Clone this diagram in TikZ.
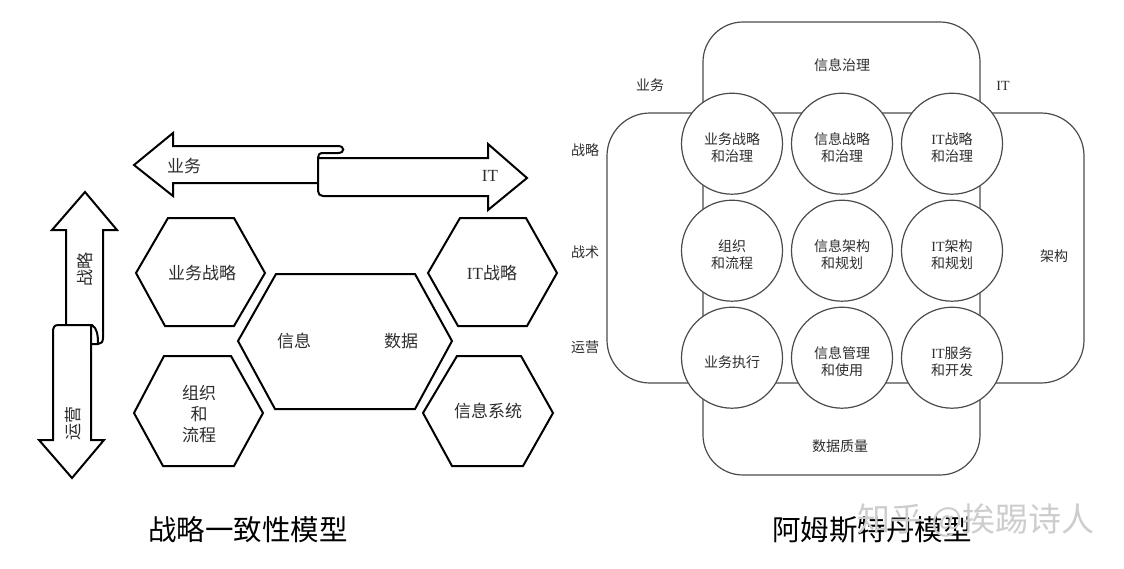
\documentclass[tikz,border=0pt]{standalone}
\usepackage{fontspec}
\setmainfont{Liberation Serif}
\newfontfamily\cjk{Noto Sans CJK SC}
\usepackage{tikz}
\usetikzlibrary{positioning}
\definecolor{inkgray}{RGB}{45,45,45}
\definecolor{rimgray}{RGB}{75,75,75}
\definecolor{markgray}{RGB}{205,205,205}
\tikzset{
	bandline/.style={draw=black, line width=2pt, line join=miter},
	hexline/.style={draw=black, line width=2pt, line join=miter},
	hexlabel/.style={font=\cjk\fontsize{17}{21}\selectfont, text=inkgray, align=center, inner sep=0pt},
	sidelabel/.style={font=\cjk\fontsize{14}{17}\selectfont, text=inkgray, inner sep=0pt},
	zone/.style={draw=rimgray, line width=1.2pt, inner sep=0pt, outer sep=0pt},
	roundel/.style={circle, draw=rimgray, line width=1.2pt, fill=white, inner sep=0pt, minimum size=101pt,
		label={[font=\cjk\fontsize{14}{16.5}\selectfont, text=inkgray, align=center, inner sep=0pt, yshift=-4pt]center:{#1}}},
	headline/.style={font=\cjk\fontsize{28.5}{32}\selectfont, text=black, inner sep=0pt}
}
\begin{document}
\begin{tikzpicture}[x=1pt, y=-1pt]
	\useasboundingbox (0,0) rectangle (1124,568);

	\draw [bandline] (318,183) -- (173,183) -- (173,196) -- (134,165) -- (173,133) -- (173,146) -- (338,146)
		.. controls (345,146) and (345,153) .. (338,153) -- (323,153)
		.. controls (319,153) and (318,155) .. (318,158) -- (318,191)
		.. controls (318,194) and (320,196) .. (323,196) -- (488,196) -- (488,210) -- (527,178) -- (488,144) -- (488,158) -- (318,158);
	\draw [bandline] (66,325) -- (66,230) -- (52,230) -- (85,192) -- (117,230) -- (103,230) -- (103,338)
		.. controls (103,342) and (101,344) .. (98,344) -- (91,344);
	\draw [bandline] (91,325) -- (91,440) -- (104,440) -- (72,478) -- (39,440) -- (53,440) -- (53,332)
		.. controls (53,328) and (54,325) .. (58,325) -- (92,325)
		.. controls (97,328) and (98,335) .. (98,344);

	\node [hexlabel] (bizband) at (184,166) {业务};
	\node [hexlabel, font=\fontsize{17}{21}\selectfont] (itband) at (490,176) {IT};
	\node [hexlabel, rotate=90] (stratband) at (85,269) {战略};
	\node [hexlabel, rotate=90] (opsband) at (73,423) {运营};

	\draw [hexline] (136,273) -- (168,218) -- (234,218) -- (265,273) -- (234,326) -- (165,326) -- cycle;
	\draw [hexline] (134,413) -- (164,356) -- (231,356) -- (263,413) -- (234,466) -- (163,466) -- cycle;
	\draw [hexline] (238,341) -- (276,274) -- (415,274) -- (452,341) -- (415,409) -- (275,409) -- cycle;
	\draw [hexline] (428,273) -- (460,218) -- (526,218) -- (557,273) -- (527,326) -- (458,326) -- cycle;
	\draw [hexline] (423,413) -- (457,356) -- (521,356) -- (553,413) -- (523,466) -- (452,466) -- cycle;

	\node [hexlabel] (bizhex) at (202,273) {业务战略};
	\node [hexlabel] (orghex) at (199,414) {组织\\和\\流程};
	\node [hexlabel] (infohex) at (294,341) {信息};
	\node [hexlabel] (datahex) at (401,341) {数据};
	\node [hexlabel] (ithex) at (492,273) {{\rmfamily IT}战略};
	\node [hexlabel] (syshex) at (488,411) {信息系统};

	\node [zone, rounded corners=40pt, minimum width=277pt, minimum height=453pt] (govzone) at (841.5,248.5) {};
	\node [zone, rounded corners=43pt, minimum width=477pt, minimum height=270pt] (archzone) at (845.5,248) {};

	\node [roundel={业务战略\\和治理}] (bizgov) at (732,143.7) {};
	\node [roundel={信息战略\\和治理}] (infogov) at (842,143.7) {};
	\node [roundel={{\rmfamily IT}战略\\和治理}] (itgov) at (952,143.7) {};
	\node [roundel={组织\\和流程}] (orgproc) at (732,250.7) {};
	\node [roundel={信息架构\\和规划}] (infoplan) at (842,250.7) {};
	\node [roundel={{\rmfamily IT}架构\\和规划}] (itplan) at (952,250.7) {};
	\node [roundel={业务执行}] (bizrun) at (732,357.7) {};
	\node [roundel={信息管理\\和使用}] (infouse) at (842,357.7) {};
	\node [roundel={{\rmfamily IT}服务\\和开发}] (itdev) at (952,357.7) {};

	\node [sidelabel] (govtop) at (842,65) {信息治理};
	\node [sidelabel] (dataqual) at (840,446) {数据质量};
	\node [sidelabel] (bizside) at (650,85) {业务};
	\node [sidelabel, font=\fontsize{14}{17}\selectfont] (itside) at (1003,86) {IT};
	\node [sidelabel] (stratside) at (585,150) {战略};
	\node [sidelabel] (tactside) at (585,252) {战术};
	\node [sidelabel] (opsside) at (585,347) {运营};
	\node [sidelabel] (archside) at (1054,256) {架构};

	\node [headline] (lefttitle) at (248,530) {战略一致性模型};
	\node [headline] (righttitle) at (872,530) {阿姆斯特丹模型};
	\node [font=\cjk\fontsize{33}{36}\selectfont, text=markgray, inner sep=0pt] (watermark) at (976,520) {知乎 @挨踢诗人};
\end{tikzpicture}
\end{document}
